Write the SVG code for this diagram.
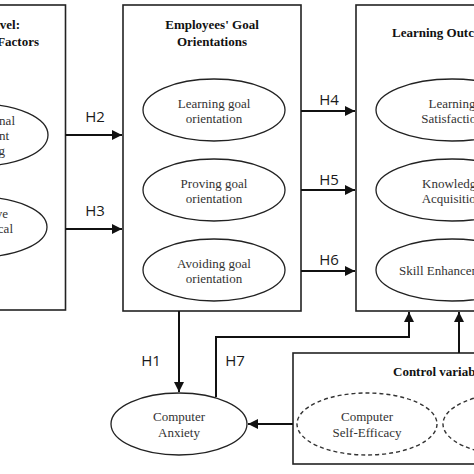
<svg xmlns="http://www.w3.org/2000/svg" width="474" height="474" viewBox="0 0 474 474">
<style>
.box{fill:#fff;stroke:#222;stroke-width:1.6}
.ell{fill:#fff;stroke:#222;stroke-width:1.3}
.dash{fill:#fff;stroke:#333;stroke-width:1.4;stroke-dasharray:4 3}
.t{font-family:"Liberation Serif","Times New Roman",serif;font-size:13px;fill:#333;text-anchor:middle}
.te{font-family:"Liberation Serif","Times New Roman",serif;font-size:13px;fill:#333;text-anchor:end}
.b{font-family:"Liberation Serif","Times New Roman",serif;font-size:13px;font-weight:bold;fill:#111;text-anchor:middle}
.bs{font-family:"Liberation Serif","Times New Roman",serif;font-size:13px;font-weight:bold;fill:#111}
.be{font-family:"Liberation Serif","Times New Roman",serif;font-size:13px;font-weight:bold;fill:#111;text-anchor:end}
.n{font-family:"Liberation Serif","Times New Roman",serif;font-size:13px;fill:#333}
.h{font-family:"Open Sans","Liberation Sans",sans-serif;font-size:15px;fill:#1a1a1a;text-anchor:middle}
.c{fill:none;stroke:#111;stroke-width:2}
</style>
<defs>
<marker id="ah" viewBox="0 0 10 10" refX="10" refY="5" markerWidth="5" markerHeight="5" orient="auto" markerUnits="strokeWidth">
<path d="M0,0 L10,5 L0,10 z" fill="#111"/>
</marker>
</defs>
<rect width="474" height="474" fill="#fff"/>

<g id="left-box">
<rect class="box" x="-10" y="5" width="75.5" height="305"/>
<text class="be" x="20" y="29">vel:</text>
<text class="be" x="39" y="46">Factors</text>
</g>
<g id="left-ellipse-1">
<ellipse class="ell" cx="-20" cy="135" rx="68" ry="31"/>
<text class="te" x="15" y="125">nal</text>
<text class="te" x="9" y="140">nt</text>
<text class="te" x="5" y="155" text-decoration="underline">g</text>
</g>
<g id="left-ellipse-2">
<ellipse class="ell" cx="-21" cy="227" rx="68" ry="30"/>
<text class="te" x="8" y="218">ve</text>
<text class="te" x="13" y="233">cal</text>
</g>

<g id="goal-box">
<rect class="box" x="123" y="5" width="178" height="306"/>
<text class="b" x="212" y="29">Employees' Goal</text>
<text class="b" x="212" y="46">Orientations</text>
</g>
<g id="learning-goal">
<ellipse class="ell" cx="214" cy="110" rx="71" ry="31"/>
<text class="t" x="214" y="108">Learning goal</text>
<text class="t" x="214" y="123">orientation</text>
</g>
<g id="proving-goal">
<ellipse class="ell" cx="214" cy="190" rx="71" ry="31"/>
<text class="t" x="214" y="188">Proving goal</text>
<text class="t" x="214" y="203">orientation</text>
</g>
<g id="avoiding-goal">
<ellipse class="ell" cx="214" cy="270" rx="71" ry="31"/>
<text class="t" x="214" y="268">Avoiding goal</text>
<text class="t" x="214" y="283">orientation</text>
</g>

<g id="outcome-box">
<rect class="box" x="356" y="5" width="130" height="306"/>
<text class="bs" x="392" y="37">Learning Outcomes</text>
</g>
<g id="learning-satisfaction">
<ellipse class="ell" cx="452" cy="110" rx="76" ry="31"/>
<text class="t" x="452" y="108">Learning</text>
<text class="t" x="452" y="123">Satisfaction</text>
</g>
<g id="knowledge-acquisition">
<ellipse class="ell" cx="452" cy="190" rx="76" ry="31"/>
<text class="t" x="452" y="188">Knowledge</text>
<text class="t" x="452" y="203">Acquisition</text>
</g>
<g id="skill-enhancement">
<ellipse class="ell" cx="452" cy="270" rx="76" ry="31"/>
<text class="n" x="399" y="275">Skill Enhancement</text>
</g>

<g id="computer-anxiety">
<ellipse class="ell" cx="179" cy="424" rx="68" ry="31"/>
<text class="t" x="179" y="421">Computer</text>
<text class="t" x="179" y="437">Anxiety</text>
</g>

<g id="control-box">
<rect class="box" x="293" y="353" width="200" height="111"/>
<text class="bs" x="393" y="376">Control variables</text>
</g>
<g id="computer-self-efficacy">
<ellipse class="dash" cx="367" cy="424" rx="70" ry="31"/>
<text class="t" x="367" y="421">Computer</text>
<text class="t" x="367" y="437">Self-Efficacy</text>
</g>
<g id="control-ellipse-2">
<ellipse class="dash" cx="513" cy="424" rx="70" ry="31"/>
</g>

<g id="connectors">
<line class="c" x1="65.5" y1="135" x2="122" y2="135" marker-end="url(#ah)"/>
<line class="c" x1="65.5" y1="229" x2="122" y2="229" marker-end="url(#ah)"/>
<line class="c" x1="301" y1="111" x2="355" y2="111" marker-end="url(#ah)"/>
<line class="c" x1="301" y1="190" x2="355" y2="190" marker-end="url(#ah)"/>
<line class="c" x1="301" y1="271" x2="355" y2="271" marker-end="url(#ah)"/>
<line class="c" x1="179" y1="311" x2="179" y2="392" marker-end="url(#ah)"/>
<polyline class="c" points="216,397 216,337 409,337 409,312" marker-end="url(#ah)"/>
<line class="c" x1="459" y1="353" x2="459" y2="312" marker-end="url(#ah)"/>
<line class="c" x1="293" y1="424" x2="248" y2="424" marker-end="url(#ah)"/>
<text class="h" x="95" y="122">H2</text>
<text class="h" x="95" y="216">H3</text>
<text class="h" x="329" y="105">H4</text>
<text class="h" x="329" y="185">H5</text>
<text class="h" x="329" y="265">H6</text>
<text class="h" x="151" y="366">H1</text>
<text class="h" x="235" y="366">H7</text>
</g>
</svg>
